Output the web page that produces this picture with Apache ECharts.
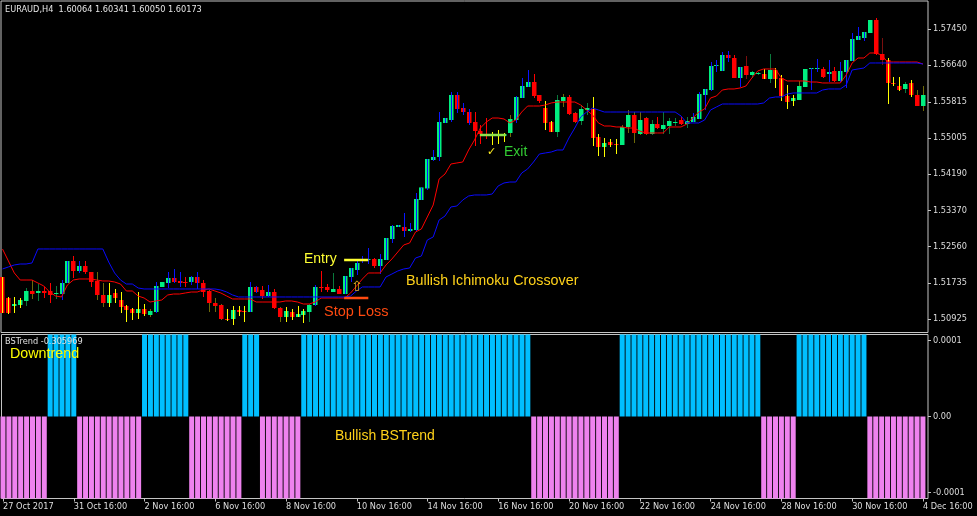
<!DOCTYPE html>
<html>
<head>
<meta charset="utf-8">
<title>EURAUD H4</title>
<script src="https://cdn.jsdelivr.net/npm/echarts@6/dist/echarts.min.js"></script>
<style>
  html, body { margin: 0; padding: 0; background: #000; }
  #chart { width: 977px; height: 516px; }
</style>
</head>
<body>
<div id="chart"></div>
<script>
const opens = [1.51878,1.51405,1.51225,1.51248,1.51338,1.51563,1.51518,1.51563,1.51563,1.51495,
  1.51495,1.51743,1.52238,1.52013,1.52125,1.51990,1.51788,1.51473,1.51293,1.51518,
  1.51360,1.51225,1.51158,1.51068,1.51158,1.51023,1.51090,1.51653,1.51743,1.51855,
  1.51788,1.51765,1.51765,1.51878,1.51743,1.51563,1.51293,1.51248,1.50933,1.50933,
  1.51135,1.51113,1.51090,1.51653,1.51585,1.51450,1.51540,1.51180,1.50978,1.51090,
  1.50978,1.51023,1.51090,1.51248,1.51653,1.51653,1.51540,1.51608,1.51495,1.51878,
  1.52035,1.52260,1.52260,1.52283,1.52125,1.52260,1.52733,1.53003,1.53003,1.52913,
  1.52935,1.53610,1.53870,1.54510,1.54578,1.55343,1.55410,1.55973,1.55680,1.55590,
  1.55365,1.55163,1.55095,1.55050,1.55073,1.55050,1.55118,1.55410,1.55905,1.56153,
  1.56265,1.55973,1.55680,1.55365,1.55140,1.55838,1.55928,1.55568,1.55388,1.55635,
  1.55658,1.55028,1.54803,1.54915,1.54870,1.54848,1.55253,1.55523,1.55095,1.55455,
  1.55095,1.55320,1.55208,1.55275,1.55343,1.55410,1.55320,1.55365,1.55433,1.55973,
  1.56085,1.56625,1.56513,1.56873,1.56805,1.56355,1.56625,1.56423,1.56445,1.56445,
  1.56333,1.56535,1.56355,1.55950,1.55838,1.55860,1.56153,1.56558,1.56558,1.56558,
  1.56445,1.56513,1.56288,1.56490,1.56738,1.57210,1.57255,1.57368,1.57660,1.56895,
  1.56760,1.56243,1.56175,1.56108,1.56243,1.55973,1.55725];
const closes = [1.51068,1.51068,1.51270,1.51360,1.51563,1.51495,1.51563,1.51518,1.51473,1.51518,
  1.51743,1.52238,1.52013,1.52125,1.51990,1.51765,1.51473,1.51293,1.51473,1.51405,
  1.51203,1.51135,1.51068,1.51158,1.51045,1.51113,1.51675,1.51765,1.51855,1.51765,
  1.51743,1.51743,1.51878,1.51743,1.51540,1.51293,1.51225,1.50933,1.50910,1.51135,
  1.51090,1.51090,1.51653,1.51540,1.51450,1.51540,1.51180,1.50978,1.51113,1.50978,
  1.51045,1.51113,1.51248,1.51653,1.51630,1.51585,1.51608,1.51495,1.51900,1.52080,
  1.52193,1.52283,1.52283,1.52125,1.52283,1.52755,1.53025,1.53048,1.52913,1.52958,
  1.53633,1.53893,1.54533,1.54578,1.55365,1.55455,1.55973,1.55658,1.55590,1.55343,
  1.55163,1.55095,1.55050,1.55095,1.55095,1.55095,1.55433,1.55928,1.56175,1.56265,
  1.55950,1.55838,1.55343,1.55140,1.55860,1.55928,1.55545,1.55365,1.55658,1.55680,
  1.55005,1.54803,1.54893,1.54848,1.54848,1.55253,1.55523,1.55118,1.55410,1.55095,
  1.55320,1.55230,1.55298,1.55388,1.55365,1.55320,1.55388,1.55478,1.55995,1.56108,
  1.56625,1.56648,1.56873,1.56805,1.56355,1.56603,1.56423,1.56490,1.56468,1.56333,
  1.56535,1.56333,1.55950,1.55815,1.55905,1.56175,1.56558,1.56580,1.56580,1.56378,
  1.56490,1.56288,1.56513,1.56760,1.57233,1.57300,1.57390,1.57660,1.56895,1.56760,
  1.56243,1.56220,1.56085,1.56220,1.55973,1.55725,1.55973];
const highs = [1.51878,1.51428,1.51428,1.51405,1.51630,1.51810,1.51720,1.51653,1.51743,1.51675,
  1.51810,1.52238,1.52350,1.52238,1.52238,1.51990,1.51990,1.51743,1.51743,1.51608,
  1.51540,1.51248,1.51180,1.51540,1.51270,1.51158,1.51765,1.51765,1.51990,1.52058,
  1.51990,1.51878,1.51900,1.51990,1.51810,1.51585,1.51405,1.51270,1.51158,1.51225,
  1.51225,1.51225,1.51765,1.51675,1.51675,1.51698,1.51608,1.51203,1.51203,1.51158,
  1.51225,1.51158,1.51270,1.51698,1.52013,1.51720,1.51968,1.51675,1.51900,1.52080,
  1.52283,1.52350,1.52530,1.52305,1.52395,1.52755,1.53048,1.53048,1.53318,1.53093,
  1.53768,1.53893,1.54533,1.54735,1.55590,1.55455,1.56040,1.56040,1.55793,1.55658,
  1.55590,1.55298,1.55455,1.55140,1.55185,1.55118,1.55523,1.55950,1.56355,1.56535,
  1.56445,1.55973,1.55838,1.55388,1.55973,1.55995,1.55973,1.55590,1.55748,1.55793,
  1.55928,1.55095,1.55005,1.54983,1.54983,1.55298,1.55635,1.55590,1.55590,1.55478,
  1.55410,1.55478,1.55590,1.55455,1.55455,1.55478,1.55478,1.55568,1.56040,1.56108,
  1.56715,1.56760,1.56940,1.56963,1.56873,1.56603,1.56850,1.56513,1.56490,1.56558,
  1.56895,1.56580,1.56423,1.56198,1.55973,1.56288,1.56558,1.56580,1.56783,1.56603,
  1.56760,1.56603,1.56715,1.56760,1.57368,1.57503,1.57390,1.57660,1.57705,1.57255,
  1.56805,1.56378,1.56378,1.56265,1.56310,1.56085,1.56175];
const lows = [1.51068,1.51045,1.51068,1.51180,1.51225,1.51383,1.51338,1.51405,1.51293,1.51383,
  1.51360,1.51743,1.51855,1.51968,1.51945,1.51653,1.51360,1.51203,1.51203,1.51293,
  1.51068,1.50865,1.50910,1.50933,1.51000,1.50978,1.51068,1.51653,1.51630,1.51743,
  1.51653,1.51653,1.51698,1.51608,1.51428,1.51090,1.51090,1.50910,1.50888,1.50798,
  1.51000,1.50865,1.51090,1.51518,1.51383,1.51428,1.51158,1.50865,1.50865,1.50910,
  1.50978,1.50843,1.50865,1.51225,1.51540,1.51540,1.51540,1.51495,1.51495,1.51765,
  1.51923,1.52193,1.52170,1.52080,1.51945,1.52260,1.52643,1.53003,1.52778,1.52890,
  1.52913,1.53610,1.53835,1.54488,1.54488,1.55343,1.55365,1.55568,1.55523,1.55298,
  1.54825,1.54870,1.54983,1.54848,1.54870,1.54915,1.55028,1.55343,1.55905,1.56153,
  1.55905,1.55793,1.55185,1.55140,1.55028,1.55703,1.55523,1.55343,1.55298,1.55523,
  1.54825,1.54600,1.54578,1.54803,1.54645,1.54848,1.55118,1.54893,1.55073,1.55073,
  1.55073,1.55208,1.55095,1.55095,1.55275,1.55298,1.55230,1.55365,1.55433,1.55635,
  1.56063,1.56490,1.56513,1.56715,1.56355,1.56153,1.56333,1.56355,1.56423,1.56333,
  1.56243,1.56130,1.55838,1.55658,1.55725,1.55860,1.56153,1.56085,1.56490,1.56355,
  1.56265,1.56265,1.56265,1.56130,1.56738,1.57210,1.57188,1.57368,1.56873,1.56648,
  1.55770,1.56175,1.56063,1.56018,1.55928,1.55725,1.55613];
// y yellow, b blue, r red, o olive, g dark green, d dark red
const wickKinds = ('yyyygogrrg' + 'bbrbrrooyy' + 'yyyyyobgbb' + 'brbbroooyy' + 'yybbrbroyy' +
  'yygbrrgrbb' + 'bbbrbbbbbb' + 'bbbbbbbbbb' + 'rrryyyobbb' + 'rryygorogg' +
  'yyyyyooooo' + 'grgggrgbbb' + 'bbbbrbdggy' + 'gyyyyogbbr' + 'brbbbbbgrd' + 'yyygyoo').split('');

const redLine = [1.52508,1.52238,1.51968,1.51810,1.51810,1.51810,1.51743,1.51675,1.51540,1.51450,
  1.51428,1.51698,1.51810,1.51833,1.51833,1.51833,1.51810,1.51788,1.51788,1.51765,
  1.51720,1.51563,1.51563,1.51450,1.51405,1.51315,1.51338,1.51360,1.51473,1.51495,
  1.51495,1.51518,1.51540,1.51540,1.51585,1.51608,1.51563,1.51518,1.51450,1.51383,
  1.51383,1.51383,1.51383,1.51315,1.51315,1.51315,1.51315,1.51315,1.51338,1.51338,
  1.51315,1.51270,1.51270,1.51315,1.51405,1.51405,1.51405,1.51405,1.51405,1.51518,
  1.51675,1.51833,1.51968,1.51968,1.51968,1.52148,1.52283,1.52440,1.52598,1.52643,
  1.52890,1.52958,1.53228,1.53498,1.54083,1.54195,1.54420,1.54443,1.54465,1.54735,
  1.54960,1.55230,1.55365,1.55455,1.55455,1.55433,1.55343,1.55410,1.55590,1.55725,
  1.55725,1.55725,1.55748,1.55793,1.55815,1.55815,1.55815,1.55815,1.55748,1.55635,
  1.55523,1.55343,1.55275,1.55275,1.55253,1.55253,1.55230,1.55230,1.55163,1.55118,
  1.55118,1.55118,1.55118,1.55253,1.55253,1.55253,1.55320,1.55455,1.55590,1.55658,
  1.55905,1.55950,1.56085,1.56108,1.56108,1.56130,1.56175,1.56355,1.56513,1.56558,
  1.56558,1.56558,1.56355,1.56288,1.56288,1.56288,1.56288,1.56265,1.56265,1.56243,
  1.56243,1.56243,1.56243,1.56423,1.56693,1.56805,1.56805,1.56918,1.56918,1.56873,
  1.56715,1.56715,1.56715,1.56715,1.56715,1.56715,1.56670];
const blueLine = [1.52058,1.52103,1.52148,1.52170,1.52170,1.52193,1.52508,1.52508,1.52508,1.52508,
  1.52508,1.52508,1.52508,1.52508,1.52508,1.52508,1.52508,1.52508,1.52215,1.51968,
  1.51810,1.51720,1.51720,1.51630,1.51608,1.51608,1.51608,1.51608,1.51608,1.51608,
  1.51608,1.51608,1.51608,1.51608,1.51608,1.51608,1.51608,1.51585,1.51540,1.51473,
  1.51428,1.51428,1.51428,1.51428,1.51428,1.51428,1.51428,1.51428,1.51428,1.51428,
  1.51428,1.51428,1.51428,1.51428,1.51428,1.51428,1.51428,1.51428,1.51428,1.51450,
  1.51563,1.51653,1.51653,1.51653,1.51653,1.51878,1.51945,1.52013,1.52058,1.52080,
  1.52305,1.52350,1.52710,1.52778,1.53160,1.53250,1.53453,1.53475,1.53610,1.53700,
  1.53723,1.53723,1.53723,1.53745,1.53925,1.53993,1.54015,1.54015,1.54218,1.54308,
  1.54465,1.54645,1.54668,1.54690,1.54735,1.54735,1.55005,1.55230,1.55478,1.55590,
  1.55680,1.55635,1.55590,1.55590,1.55590,1.55590,1.55590,1.55590,1.55590,1.55590,
  1.55590,1.55590,1.55590,1.55590,1.55590,1.55500,1.55343,1.55343,1.55343,1.55410,
  1.55635,1.55703,1.55770,1.55770,1.55770,1.55770,1.55770,1.55770,1.55770,1.55793,
  1.55905,1.55928,1.55928,1.55995,1.56018,1.56018,1.56018,1.56018,1.56018,1.56085,
  1.56108,1.56108,1.56108,1.56198,1.56535,1.56558,1.56580,1.56693,1.56693,1.56693,
  1.56693,1.56693,1.56693,1.56693,1.56693,1.56693,1.56670];

const U = 0.000108, D = -0.000108;
const bsTrend = [D,D,D,D,D,D,D,D,U,U,U,U,U,D,D,D,D,D,D,D,D,D,D,D,U,U,U,U,U,U,U,U,
  D,D,D,D,D,D,D,D,D,U,U,U,D,D,D,D,D,D,D,
  U,U,U,U,U,U,U,U,U,U,U,U,U,U,U,U,U,U,U,U,U,U,U,U,U,U,U,U,U,U,U,U,U,U,U,U,U,U,U,
  D,D,D,D,D,D,D,D,D,D,D,D,D,D,D,
  U,U,U,U,U,U,U,U,U,U,U,U,U,U,U,U,U,U,U,U,U,U,U,U,
  D,D,D,D,D,D,U,U,U,U,U,U,U,U,U,U,U,U,D,D,D,D,D,D,D,D,D,D];

const priceTicks = [1.5745,1.5664,1.55815,1.55005,1.5419,1.5337,1.5256,1.51735,1.50925];
const trendTicks = [0.0001,0,-0.0001];
const dateTicks = [0,12,24,36,48,60,72,84,96,108,120,132,144,156];
const dateLabels = ['27 Oct 2017','31 Oct 16:00','2 Nov 16:00','6 Nov 16:00','8 Nov 16:00','10 Nov 16:00',
  '14 Nov 16:00','16 Nov 16:00','20 Nov 16:00','22 Nov 16:00','24 Nov 16:00','28 Nov 16:00','30 Nov 16:00','4 Dec 16:00'];

// trade markers [bar index, price]
const entryLevel = [[57.9,1.5226],[62,1.5226]];
const stopLevel = [[57.9,1.51405],[62,1.51405]];
const exitLevel = [[80.9,1.55073],[85.3,1.55073]];

const wickColors = { y: '#ffff00', b: '#0a14ff', r: '#ff0000', o: '#6e6a08', g: '#0a7a3c', d: '#7a0f0f' };
const upColor = '#00f080', downColor = '#ff0000';
const axisText = { color: '#dedede', fontFamily: 'DejaVu Sans', fontSize: 8.2 };
const border = '#c4c4c4';
const xMin = -0.254, xMax = 156.86;
const labelFont = 'Liberation Sans';

const renderCandle = (params, api) => {
  const i = api.value(0);
  const kind = wickKinds[i];
  const x = Math.round(api.coord([i, api.value(1)])[0]);
  const yO = api.coord([i, api.value(1)])[1];
  const yC = api.coord([i, api.value(2)])[1];
  const yL = api.coord([i, api.value(3)])[1];
  const yH = api.coord([i, api.value(4)])[1];
  const wick = {
    type: 'rect',
    shape: { x: x, y: yH, width: 1, height: Math.max(yL - yH, 1) },
    style: { fill: wickColors[kind] }
  };
  const body = {
    type: 'rect',
    shape: { x: x - 2, y: Math.min(yO, yC), width: 4.5, height: Math.max(Math.abs(yO - yC), 1) },
    style: { fill: api.value(2) >= api.value(1) ? upColor : downColor }
  };
  // yellow and blue wicks show through the body
  const onTop = kind === 'y' || kind === 'b';
  return { type: 'group', children: onTop ? [body, wick] : [wick, body] };
};

const levelSeries = (data, color, width) => ({
  type: 'line', xAxisIndex: 0, yAxisIndex: 0, data: data, symbol: 'none', z: 5,
  lineStyle: { color: color, width: width }
});

const text = (str, x, y, fill, size, family) => ({
  type: 'text', z: 100,
  style: { text: str, x: x, y: y, fill: fill, font: size + 'px "' + (family || labelFont) + '"', verticalAlign: 'middle' }
});

const option = {
  animation: false,
  backgroundColor: '#000',
  grid: [
    { left: 1, top: 1, width: 927, height: 331.5, show: true, borderColor: border, borderWidth: 1, backgroundColor: '#000' },
    { left: 1, top: 334.5, width: 927, height: 164, show: true, borderColor: border, borderWidth: 1, backgroundColor: '#000' }
  ],
  xAxis: [
    { type: 'value', gridIndex: 0, min: xMin, max: xMax, show: false, splitLine: { show: false } },
    {
      type: 'value', gridIndex: 1, min: xMin, max: xMax, splitLine: { show: false }, axisLine: { show: false, onZero: false },
      axisTick: { show: true, length: 3, customValues: dateTicks, lineStyle: { color: border } },
      axisLabel: {
        ...axisText, customValues: dateTicks, align: 'left', margin: 4, showMinLabel: true, showMaxLabel: true,
        formatter: (v) => dateLabels[dateTicks.indexOf(v)]
      }
    }
  ],
  yAxis: [
    {
      type: 'value', gridIndex: 0, position: 'right', min: 1.506288, max: 1.580875, splitLine: { show: false }, axisLine: { show: false, onZero: false },
      axisTick: { show: true, length: 3, customValues: priceTicks, lineStyle: { color: border } },
      axisLabel: { ...axisText, customValues: priceTicks, margin: 5, formatter: (v) => v.toFixed(5) }
    },
    {
      type: 'value', gridIndex: 1, position: 'right', min: D, max: U, splitLine: { show: false }, axisLine: { show: false, onZero: false },
      axisTick: { show: true, length: 3, customValues: trendTicks, lineStyle: { color: border } },
      axisLabel: { ...axisText, customValues: trendTicks, margin: 5, formatter: (v) => (v === 0 ? '0.00' : v.toFixed(4)) }
    }
  ],
  series: [
    {
      type: 'custom', xAxisIndex: 0, yAxisIndex: 0, renderItem: renderCandle, z: 2,
      encode: { x: 0, y: [1, 2, 3, 4] },
      data: opens.map((o, i) => [i, o, closes[i], lows[i], highs[i]])
    },
    {
      type: 'line', xAxisIndex: 0, yAxisIndex: 0, data: redLine.map((v, i) => [i, v]), symbol: 'none', z: 3,
      lineStyle: { color: '#ff0000', width: 1 }
    },
    {
      type: 'line', xAxisIndex: 0, yAxisIndex: 0, data: blueLine.map((v, i) => [i, v]), symbol: 'none', z: 3,
      lineStyle: { color: '#0a0aff', width: 1 }
    },
    levelSeries(entryLevel, '#ffff33', 2.5),
    levelSeries(stopLevel, '#ff4a10', 2.5),
    levelSeries(exitLevel, '#8fe04a', 2.5),
    {
      type: 'bar', xAxisIndex: 1, yAxisIndex: 1, barWidth: 5,
      data: bsTrend.map((v, i) => [i, v]),
      itemStyle: { color: (p) => (p.value[1] > 0 ? '#00bfff' : '#ee82ee') }
    }
  ],
  graphic: [
    text('EURAUD,H4  1.60064 1.60341 1.60050 1.60173', 5, 9.5, '#e6e6e6', 8.2, 'DejaVu Sans'),
    text('Entry', 304, 259, '#ffff33', 14),
    text('Stop Loss', 324, 312, '#ff4a10', 14.5),
    text('Bullish Ichimoku Crossover', 406, 281, '#ffd21a', 14.3),
    text('Exit', 504, 152, '#33cc33', 14),
    text('\u2713', 487, 152, '#ffee22', 11, 'DejaVu Sans'),
    text('\u21E7', 351, 287, '#e0b020', 14, 'DejaVu Sans'),
    text('BSTrend -0.305969', 5, 342, '#e0e0e0', 8.2, 'DejaVu Sans'),
    text('Downtrend', 10, 354, '#ffff00', 14.3),
    text('Bullish BSTrend', 335, 436, '#ffd21a', 14)
  ]
};

const chart = echarts.init(document.getElementById('chart'));
chart.setOption(option);
</script>
</body>
</html>
